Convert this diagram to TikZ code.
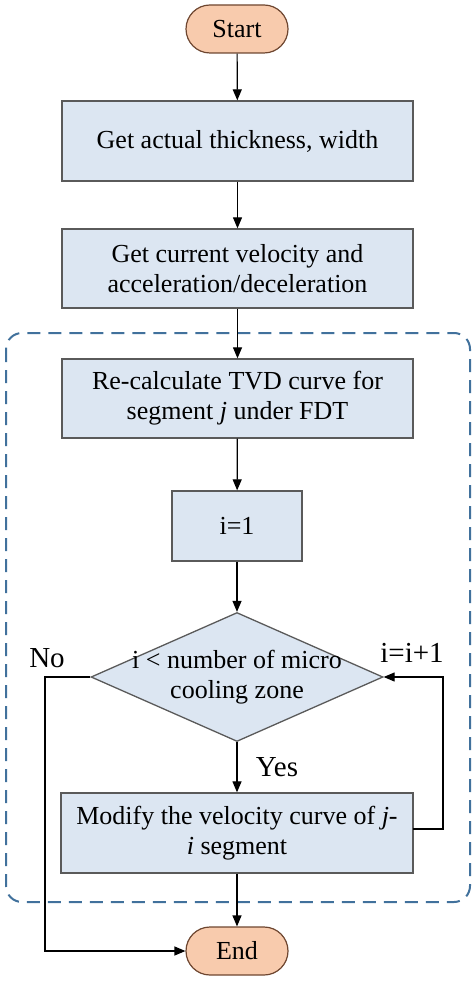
\documentclass[tikz,border=0pt]{standalone}
\usepackage{fontspec}
\setmainfont{Liberation Serif}
\usepackage{tikz}
\usetikzlibrary{arrows.meta, positioning, shapes.geometric}
\usepackage{xcolor}

\definecolor{boxblue}{HTML}{DCE6F2}
\definecolor{boxgray}{HTML}{5A5A5A}
\definecolor{termfill}{HTML}{F8CBAD}
\definecolor{termline}{HTML}{6E4630}
\definecolor{frameblue}{HTML}{41719C}

\tikzset{
    procbox/.style={draw=boxgray, line width=1.3pt, fill=boxblue, align=center,
        minimum width=351pt, minimum height=80pt, inner sep=0pt,
        font=\fontsize{26}{30}\selectfont},
    termbox/.style={draw=termline, line width=1.2pt, fill=termfill,
        rounded corners=24pt, minimum width=102pt, minimum height=48pt,
        inner sep=0pt, font=\fontsize{26}{30}\selectfont},
    decision/.style={diamond, draw=boxgray, line width=1.3pt, fill=boxblue,
        minimum width=292pt, minimum height=129pt, inner sep=0pt},
    flow/.style={line width=1.2pt, -{Triangle[length=11pt,width=9pt]}},
    branch/.style={font=\fontsize{29}{31}\selectfont}
}

\begin{document}
\begin{tikzpicture}[x=1pt, y=-1pt]
        % Khung ảnh giữ đúng tỉ lệ
        \useasboundingbox (0,0) rectangle (474,981);
        
        % Khung nét đứt bao vòng lặp
        \draw[frameblue, line width=2pt, dash pattern=on 13pt off 8pt, rounded corners=16pt]
            (6,333) rectangle (470,902);
        
        % Các khối chính
        \node[termbox] (start) at (237,29) {Start};
        \node[procbox] (thick) at (237.5,141) {Get actual thickness, width};
        \node[procbox, minimum height=79pt] (vel) at (237.5,268.5) {Get current velocity and\\acceleration/deceleration};
        \node[procbox, minimum height=79pt] (tvd) at (237.5,398.5) {Re-calculate TVD curve for\\segment \textit{j} under FDT};
        \node[procbox, minimum width=130pt, minimum height=70pt] (init) at (237,526) {i=1};
        \node[decision, label={[align=center, font=\fontsize{26}{30}\selectfont]center:i < number of micro\\cooling zone}] (check) at (237,677) {};
        \node[procbox, minimum width=352pt] (modify) at (237,833) {Modify the velocity curve of \textit{j}-\\\textit{i} segment};
        \node[termbox] (stop) at (237,951) {End};
        
        % Điểm gấp của các đường vòng
        \coordinate (noturn) at (45,677);
        \coordinate (loopout) at (413,829);
        \coordinate (loopturn) at (443,829);
        
        % Mũi tên nối các khối
        \draw[flow] (start) -- (thick);
        \draw[flow] (thick) -- (vel);
        \draw[flow] (vel) -- (tvd);
        \draw[flow] (tvd) -- (init);
        \draw[flow] (init) -- (check);
        \draw[flow] (check) -- (modify);
        \draw[flow] (modify) -- (stop);
        \draw[flow] (check.west) -- (noturn) |- (stop.west);
        \draw[flow] (loopout) -- (loopturn) |- (check.east);
        
        % Nhãn nhánh
        \node[branch] (yes) at (277,767) {Yes};
        \node[branch] (no) at (47,658) {No};
        \node[branch] (inc) at (412,653) {i=i+1};
    \end{tikzpicture}
\end{document}
